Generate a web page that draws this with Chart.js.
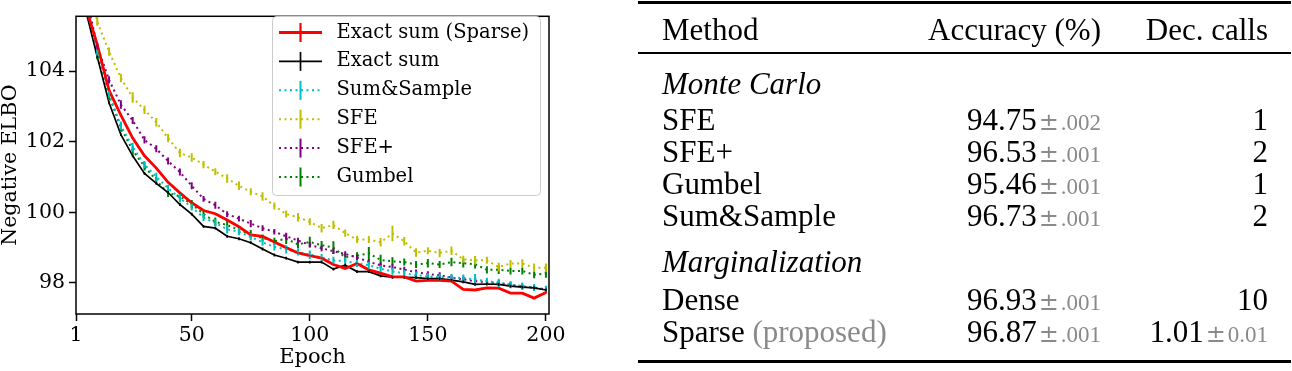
<!DOCTYPE html>
<html><head><meta charset="utf-8">
<script src="https://cdn.jsdelivr.net/npm/chart.js@4.4.0/dist/chart.umd.min.js"></script>
<style>
html,body{margin:0;padding:0;background:#fff;width:1292px;height:371px;overflow:hidden;}
#chartBox{position:absolute;left:0;top:0;width:600px;height:371px;}
#tbl{position:absolute;left:0;top:0;width:1292px;height:371px;font-family:"Liberation Serif","Times New Roman",serif;font-size:31px;color:#000;}
.rule{position:absolute;background:#000;left:638px;width:653px;}
.t{position:absolute;line-height:36px;height:36px;white-space:nowrap;}
.r{text-align:right;}
.pm{color:#8a8a8a;font-size:23px;}
.pms{font-family:"DejaVu Serif",serif;font-size:24px;margin:0 2px 0 2px;}
.g{color:#8a8a8a;}
.it{font-style:italic;}
</style></head>
<body>
<div id="chartBox"><canvas id="c" width="600" height="371"></canvas></div>
<div id="tbl"></div>
<script>
// ---------------- chart data ----------------
const epochs = [1,5,10,15,20,25,30,35,40,45,50,55,60,65,70,75,80,85,90,95,100,105,110,115,120,125,130,135,140,145,150,155,160,165,170,175,180,185,190,195,200];
const exactSumSparse = [112.5,105.85,104.75,103.45,102.75,102.1,101.6,101.25,100.85,100.55,100.27,100.05,99.96,99.78,99.59,99.36,99.32,99.16,99.0,98.85,98.77,98.7,98.52,98.41,98.55,98.37,98.28,98.17,98.17,98.05,98.07,98.07,98.05,97.82,97.8,97.86,97.85,97.71,97.71,97.57,97.73];
const exactSum = [112,105.75,104.4,103.1,102.2,101.6,101.1,100.82,100.56,100.22,99.95,99.6,99.55,99.32,99.25,99.14,98.96,98.79,98.7,98.59,98.59,98.59,98.39,98.5,98.32,98.32,98.2,98.16,98.16,98.15,98.12,98.12,98.08,98.03,97.96,97.97,97.96,97.91,97.88,97.86,97.8];
const sumSample = [112,105.85,104.5,103.35,102.45,101.85,101.35,101.0,100.68,100.4,100.15,99.85,99.7,99.52,99.45,99.3,99.15,99.02,98.95,98.88,98.8,98.72,98.64,98.62,98.55,98.5,98.4,98.33,98.27,98.22,98.18,98.16,98.15,98.14,98.1,98.05,98.0,97.95,97.91,97.87,97.82];
const sfe = [115,107.2,105.4,104.55,103.8,103.25,102.9,102.55,102.1,101.68,101.55,101.35,101.15,100.96,100.75,100.58,100.45,100.18,99.95,99.86,99.73,99.55,99.64,99.41,99.23,99.23,99.15,99.4,99.18,98.86,98.91,98.85,98.91,98.67,98.64,98.64,98.45,98.55,98.55,98.43,98.43];
const sfePlus = [113,106.2,104.7,103.75,103.05,102.6,102.05,101.8,101.45,101.14,100.75,100.38,100.2,99.95,99.82,99.68,99.55,99.45,99.32,99.2,99.08,98.98,98.9,98.82,98.72,98.6,98.5,98.45,98.38,98.3,98.25,98.22,98.15,98.1,98.05,98.02,98.0,97.95,97.9,97.86,97.82];
const gumbel = [112,105.85,104.45,103.3,102.4,101.75,101.3,100.9,100.55,100.45,100.23,99.95,99.73,99.64,99.5,99.38,99.27,99.18,99.25,99.09,99.16,99.07,99.0,98.73,98.77,98.84,98.65,98.61,98.59,98.52,98.56,98.52,98.59,98.56,98.53,98.37,98.37,98.34,98.34,98.23,98.27];

// error bar half-widths (estimated)
const errExactSumSparse = [0.02,0.02,0.02,0.02,0.02,0.02,0.02,0.02,0.02,0.02,0.02,0.02,0.02,0.02,0.02,0.02,0.02,0.02,0.02,0.02,0.02,0.02,0.02,0.02,0.02,0.02,0.02,0.02,0.02,0.02,0.02,0.02,0.02,0.02,0.02,0.02,0.02,0.02,0.02,0.02,0.02];
const errExactSum = [0.04,0.04,0.04,0.04,0.04,0.04,0.04,0.04,0.04,0.04,0.04,0.04,0.04,0.04,0.04,0.04,0.04,0.04,0.04,0.04,0.04,0.04,0.04,0.04,0.04,0.04,0.04,0.04,0.04,0.04,0.04,0.04,0.04,0.04,0.04,0.04,0.04,0.04,0.04,0.04,0.04];
const errSumSample = [0.1,0.1,0.1,0.1,0.12,0.12,0.1,0.12,0.1,0.12,0.1,0.1,0.1,0.12,0.1,0.1,0.1,0.1,0.12,0.1,0.12,0.1,0.1,0.1,0.1,0.1,0.1,0.1,0.1,0.1,0.1,0.1,0.1,0.1,0.15,0.1,0.12,0.1,0.1,0.1,0.1];
const errSfe = [0.15,0.15,0.12,0.12,0.12,0.15,0.12,0.12,0.12,0.12,0.12,0.1,0.1,0.12,0.12,0.1,0.12,0.1,0.1,0.12,0.1,0.12,0.12,0.1,0.1,0.1,0.12,0.22,0.12,0.12,0.1,0.12,0.12,0.1,0.12,0.1,0.12,0.1,0.12,0.12,0.12];
const errSfePlus = [0.1,0.1,0.1,0.1,0.12,0.1,0.1,0.1,0.1,0.1,0.1,0.08,0.1,0.08,0.08,0.1,0.08,0.08,0.1,0.08,0.08,0.08,0.08,0.08,0.08,0.08,0.08,0.08,0.08,0.08,0.08,0.08,0.08,0.08,0.08,0.08,0.08,0.08,0.08,0.08,0.08];
const errGumbel = [0.1,0.1,0.12,0.12,0.12,0.12,0.12,0.1,0.12,0.12,0.12,0.1,0.12,0.12,0.1,0.12,0.1,0.1,0.15,0.1,0.15,0.12,0.18,0.1,0.1,0.18,0.15,0.12,0.1,0.1,0.12,0.1,0.12,0.12,0.12,0.1,0.12,0.1,0.1,0.1,0.12];

const xTicks = [1,50,100,150,200];
const yTicks = [98,100,102,104];
const xTitle = "Epoch";
const yTitle = "Negative ELBO";

// ---------------- table data ----------------
const groupNames = ["Monte Carlo","Marginalization"];
const methodNames = ["SFE","SFE+","Gumbel","Sum&Sample","Dense","Sparse"];
const methodGroup = [0,0,0,0,1,1];
const methodNote = ["","","","","","(proposed)"];
const accuracy = ["94.75","96.53","95.46","96.73","96.93","96.87"];
const accuracyErr = [".002",".001",".001",".001",".001",".001"];
const decCalls = ["1","2","1","2","10","1.01"];
const decCallsErr = ["","","","","","0.01"];
const headers = ["Method","Accuracy (%)","Dec. calls"];

// ---------------- chart ----------------
const FONT = '"DejaVu Serif", serif';
function mk(label, vals, errs, color, width, dash, order){
  return {label, data: epochs.map((e,i)=>({x:e, y:vals[i]})), err: errs,
    borderColor: color, backgroundColor: color, borderWidth: width, borderDash: dash,
    pointRadius: 0, tension: 0, fill:false, clip: 0, order, errWidth: Math.max(1.5, Math.min(width,2))};
}
const datasets = [
  mk("Exact sum (Sparse)", exactSumSparse, errExactSumSparse, "#ff0000", 2.8, [], 0),
  mk("Exact sum", exactSum, errExactSum, "#000000", 1.7, [], 1),
  mk("Sum&Sample", sumSample, errSumSample, "#00bfbf", 2, [2,3.5], 2),
  mk("SFE", sfe, errSfe, "#bfbf00", 2, [2,3.5], 3),
  mk("SFE+", sfePlus, errSfePlus, "#800080", 2, [2,3.5], 4),
  mk("Gumbel", gumbel, errGumbel, "#008000", 2, [2,3.5], 5),
];

const errorBarPlugin = {
  id:'errbars',
  afterDatasetsDraw(chart){
    const {ctx, chartArea:a, scales:{x,y}} = chart;
    ctx.save();
    ctx.beginPath(); ctx.rect(a.left,a.top,a.right-a.left,a.bottom-a.top); ctx.clip();
    const ds = chart.data.datasets.slice().reverse();
    ds.forEach(d=>{
      ctx.strokeStyle = d.borderColor; ctx.lineWidth = d.errWidth; ctx.setLineDash([]);
      d.data.forEach((p,i)=>{
        const e = d.err[i]; const px = x.getPixelForValue(p.x);
        ctx.beginPath();
        ctx.moveTo(px, y.getPixelForValue(p.y-e));
        ctx.lineTo(px, y.getPixelForValue(p.y+e));
        ctx.stroke();
      });
    });
    ctx.restore();
  }
};
const framePlugin = {
  id:'frame',
  afterDraw(chart){
    const {ctx, chartArea:a} = chart;
    ctx.save();
    ctx.strokeStyle = '#000'; ctx.lineWidth = 1.5; ctx.setLineDash([]);
    ctx.strokeRect(a.left, a.top, a.right-a.left, a.bottom-a.top);
    ctx.restore();
  }
};
const legendPlugin = {
  id:'innerLegend',
  afterDraw(chart){
    const {ctx} = chart;
    const bx = 272.5, by = 16.5, bw = 268, bh = 179;
    ctx.save();
    ctx.beginPath();
    ctx.roundRect(bx, by, bw, bh, 4);
    ctx.fillStyle = 'rgba(255,255,255,0.85)'; ctx.fill();
    ctx.strokeStyle = '#cccccc'; ctx.lineWidth = 1; ctx.stroke();
    chart.data.datasets.forEach((d,i)=>{
      const cy = 32.5 + i*28.9;
      ctx.strokeStyle = d.borderColor;
      ctx.lineWidth = d.borderWidth;
      ctx.setLineDash(d.borderDash);
      ctx.beginPath(); ctx.moveTo(279, cy); ctx.lineTo(322, cy); ctx.stroke();
      ctx.setLineDash([]);
      ctx.lineWidth = Math.min(d.borderWidth, 2.2);
      ctx.beginPath(); ctx.moveTo(300.5, cy-9.5); ctx.lineTo(300.5, cy+9.5); ctx.stroke();
      ctx.fillStyle = '#000';
      ctx.font = '19.5px ' + FONT;
      ctx.textBaseline = 'middle';
      ctx.textAlign = 'left';
      ctx.fillText(d.label, 336.5, cy);
    });
    ctx.restore();
  }
};

new Chart(document.getElementById('c'), {
  type:'line',
  data:{datasets},
  options:{
    responsive:false, animation:false, devicePixelRatio:1,
    layout:{padding:{left:0,right:51,top:5,bottom:0}},
    plugins:{legend:{display:false}, tooltip:{enabled:false}},
    scales:{
      x:{type:'linear', min:1, max:201.3, position:'bottom',
        afterBuildTicks:s=>{ s.ticks = xTicks.map(v=>({value:v})); },
        afterFit:s=>{ s.height = 57; },
        ticks:{color:'#000', font:{family:FONT,size:20.5}, padding:2, maxRotation:0, autoSkip:false, callback:v=>String(v)},
        grid:{drawOnChartArea:false, drawTicks:true, tickLength:7, tickColor:'#000', tickWidth:1.5},
        border:{display:false},
        title:{display:true, text:xTitle, color:'#000', font:{family:FONT,size:21,lineHeight:1}, padding:{top:0,bottom:3}}
      },
      y:{type:'linear', min:97.12, max:105.55, position:'left',
        afterBuildTicks:s=>{ s.ticks = yTicks.map(v=>({value:v})); },
        afterFit:s=>{ s.width = 76; },
        ticks:{color:'#000', font:{family:FONT,size:20.5}, padding:4, callback:v=>String(v)},
        grid:{drawOnChartArea:false, drawTicks:true, tickLength:7, tickColor:'#000', tickWidth:1.5},
        border:{display:false},
        title:{display:true, text:yTitle, color:'#000', font:{family:FONT,size:20.5,lineHeight:1}, padding:{top:0,bottom:0}}
      }
    }
  },
  plugins:[errorBarPlugin, framePlugin, legendPlugin]
});

// ---------------- table ----------------
(function(){
  const T = document.getElementById('tbl');
  function rule(top,h){ const d=document.createElement('div'); d.className='rule'; d.style.top=top+'px'; d.style.height=h+'px'; T.appendChild(d); }
  function txt(html, cy, left, right, cls){
    const d=document.createElement('div'); d.className='t '+(cls||'');
    d.style.top=(cy-18)+'px';
    if(left!=null) d.style.left=left+'px';
    if(right!=null){ d.style.right=(1292-right)+'px'; d.className+=' r'; }
    d.innerHTML=html; T.appendChild(d);
  }
  const esc = s=>s.replace(/&/g,'&amp;');
  const pm = v=>'<span class="pm"><span class="pms">\u00b1</span>'+v+'</span>';
  const colL = 662, accR = 1101, callR = 1268;
  rule(1,3); rule(52,2); rule(360,3);
  txt(headers[0], 30, colL);
  txt(headers[1], 30, null, accR);
  txt(headers[2], 30, null, callR);
  const groupY = [84, 262];
  const rowY = [120, 152, 184, 216, 300, 332];
  groupNames.forEach((g,i)=>txt(esc(g), groupY[i], colL, null, 'it'));
  methodNames.forEach((m,i)=>{
    const note = methodNote[i] ? ' <span class="g">'+methodNote[i]+'</span>' : '';
    txt(esc(m)+note, rowY[i], colL);
    txt(accuracy[i]+pm(accuracyErr[i]), rowY[i], null, accR);
    txt(decCalls[i]+(decCallsErr[i]?pm(decCallsErr[i]):''), rowY[i], null, callR);
  });
})();
</script>
</body></html>
